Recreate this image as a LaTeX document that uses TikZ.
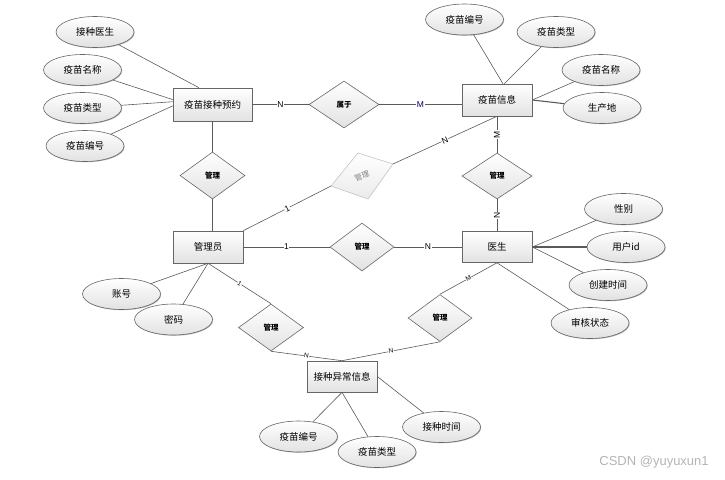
\documentclass[tikz,border=0pt]{standalone}
\usepackage{fontspec}
\setmainfont{Noto Sans CJK SC}
\newfontfamily\lat{Liberation Sans}
\usetikzlibrary{shapes.geometric,shadows}
\definecolor{ln}{HTML}{5A5A5A}
\definecolor{bd}{HTML}{666666}
\definecolor{fl}{HTML}{E2E2E2}
\definecolor{lg}{HTML}{C4C4C4}
\definecolor{wmk}{HTML}{B4B4B4}
\begin{document}
\begin{tikzpicture}[x=1pt,y=-1pt,line width=0.6pt,
  shd/.style={drop shadow={shadow xshift=0.7pt,shadow yshift=-0.7pt,opacity=0.3,fill=black}},
  ent/.style={rectangle,draw=bd,top color=white,bottom color=fl,minimum width=70pt,minimum height=32pt,inner sep=0pt,font=\fontsize{9.5}{11}\selectfont,shd},
  attr/.style={ellipse,draw=bd,top color=white,bottom color=fl,minimum width=78pt,minimum height=31pt,inner sep=0pt,font=\fontsize{9.5}{11}\selectfont,shd},
  rel/.style={diamond,draw=bd,top color=white,bottom color=fl,minimum width=65pt,minimum height=47pt,inner sep=0pt,font=\fontsize{7.5}{9}\selectfont\bfseries},
  lab/.style={fill=white,inner sep=0.6pt,text=black,font=\lat\fontsize{8.5}{9}\selectfont},
  slab/.style={fill=white,inner sep=0.4pt,text=black,font=\lat\fontsize{6.5}{7}\selectfont},
  conn/.style={draw=ln},
  thk/.style={draw=ln,line width=1.1pt}]
\useasboundingbox (0,0) rectangle (725,479);

% entities
\node[ent,minimum width=79pt,minimum height=33pt] (R1) at (212.5,104.5) {疫苗接种预约};
\node[ent] (R2) at (497,100) {疫苗信息};
\node[ent] (R3) at (208,247) {管理员};
\node[ent,minimum height=31pt] (R4) at (497,247) {医生};
\node[ent,minimum height=31pt] (R5) at (342,376.5) {接种异常信息};

% relations
\node[rel,minimum width=70pt] (D1) at (344,104.5) {属于};
\node[rel] (D2) at (212.5,175.5) {管理};
\node[rel,minimum width=70pt,minimum height=46pt] (D4) at (497,176) {管理};
\node[rel,minimum width=64pt,minimum height=48pt] (D5) at (362,247) {管理};
\node[rel] (D6) at (271,327.5) {管理};
\node[rel,minimum width=64pt] (D7) at (440,318) {管理};

% faded rotated relation
\coordinate (d3t) at (358,153);
\coordinate (d3r) at (393,164);
\coordinate (d3b) at (368,199);
\coordinate (d3l) at (331,186);
\path[draw=lg,top color=white,bottom color=fl!70] (d3t) -- (d3r) -- (d3b) -- (d3l) -- cycle;
\node[rotate=20,text=gray,font=\fontsize{7.5}{9}\selectfont] (D3) at (362,176) {管理};

% attributes
\node[attr] (E1) at (95,32) {接种医生};
\node[attr] (E2) at (82.5,70) {疫苗名称};
\node[attr] (E3) at (82.5,108) {疫苗类型};
\node[attr] (E4) at (85,146) {疫苗编号};
\node[attr] (E5) at (464.5,19.5) {疫苗编号};
\node[attr] (E6) at (556,32) {疫苗类型};
\node[attr] (E7) at (601,70) {疫苗名称};
\node[attr] (E8) at (602,108) {生产地};
\node[attr] (E9) at (623.5,209) {性别};
\node[attr] (E10) at (626,247) {用户id};
\node[attr] (E11) at (608,285) {创建时间};
\node[attr] (E12) at (590,323) {审核状态};
\node[attr] (E13) at (121.5,294) {账号};
\node[attr] (E14) at (173.5,319.5) {密码};
\node[attr] (E15) at (298.5,436.5) {疫苗编号};
\node[attr] (E16) at (377,452) {疫苗类型};
\node[attr] (E17) at (441.5,427) {接种时间};

% attribute links
\draw[conn] (E1) -- (R1.129);
\draw[conn] (E2) -- (R1.173);
\draw[conn] (E3) -- (R1.176);
\draw[conn] (E4) -- (R1.182);
\draw[conn] (E5) -- (R2.70);
\draw[conn] (E6) -- (R2.66);
\draw[conn] (E7) -- (R2.east);
\draw[thk] (E8) -- (R2.east);
\draw[conn] (E9) -- (R4.east);
\draw[thk] (E10) -- (R4.east);
\draw[conn] (E11) -- (R4.east);
\draw[conn] (E12) -- (R4.south);
\draw[conn] (E13) -- (R3.south);
\draw[conn] (E14) -- (R3.south);
\draw[conn] (E15) -- (R5.south);
\draw[conn] (E16) -- (R5.south);
\draw[conn] (E17) -- (R5.east);

% relationship links
\draw[conn] (R1.east) -- node[lab] {N} (D1.west);
\draw[conn] (D1.east) -- node[lab,text=blue!40!black] {M} (D1.east -| R2.west);
\draw[conn] (R1.south) -- (D2.north);
\draw[conn] (D2.south) -- (D2.south |- R3.north);
\draw[conn] (R2.south) -- node[lab,sloped] {N} (d3r);
\draw[conn] (R3.north east) -- node[lab,sloped] {1} (d3l);
\draw[conn] (R2.south) -- node[lab,rotate=90] {M} (D4.north);
\draw[conn] (D4.south) -- node[lab,rotate=90] {N} (R4.north);
\draw[thk,line width=0.9pt] (R3.east) -- node[lab] {1} (D5.west);
\draw[thk,line width=0.9pt] (D5.east) -- node[lab] {N} (R4.west);
\draw[conn] (R3.south) -- node[slab,sloped] {1} (D6.north);
\draw[conn] (D6.south) -- node[slab,sloped] {N} (R5.north);
\draw[conn] (R4.south) -- node[slab,sloped] {M} (D7.north);
\draw[conn] (D7.south) -- node[slab,sloped] {N} (R5.north);

% watermark
\node[font=\lat\fontsize{13}{15}\selectfont,text=wmk,anchor=east,inner sep=0pt] (wm) at (709,462) {CSDN @yuyuxun1};
\end{tikzpicture}
\end{document}
